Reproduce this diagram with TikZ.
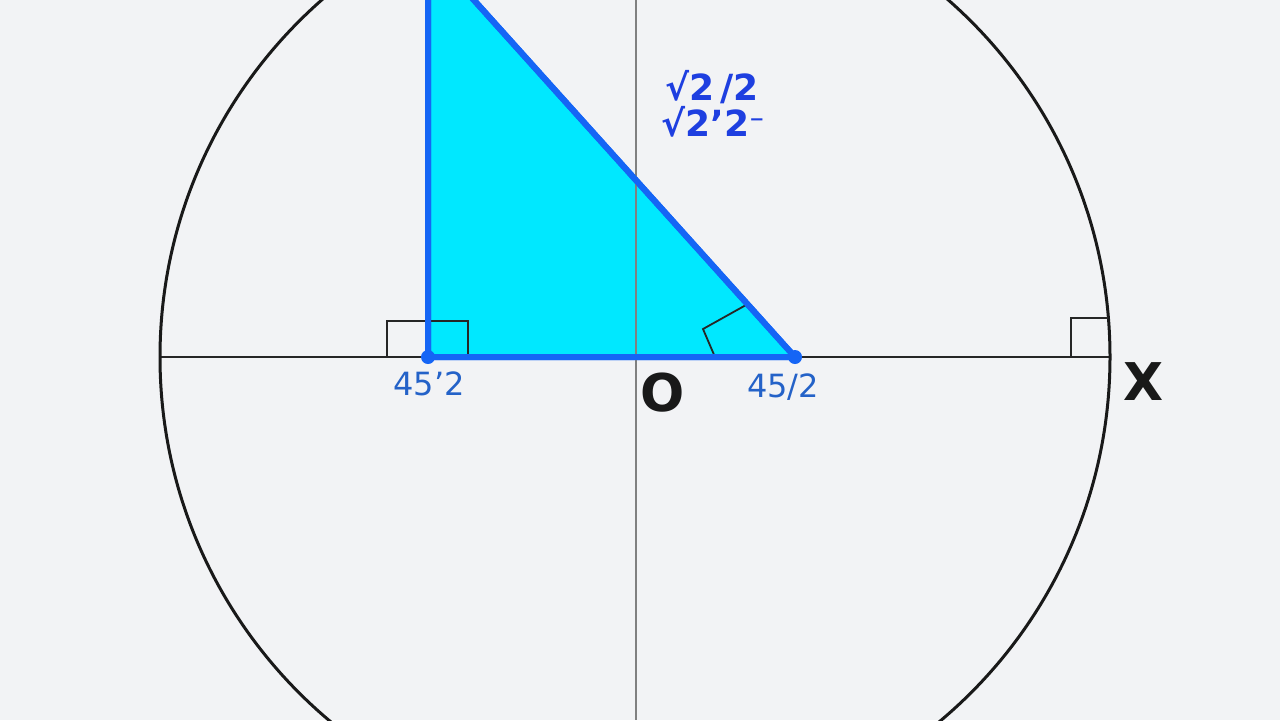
\documentclass[tikz,border=0pt]{standalone}
\usepackage{fontspec}
\setmainfont{DejaVu Sans}
\definecolor{bgc}{HTML}{F2F3F5}
\definecolor{fillc}{HTML}{00E8FF}
\definecolor{edgec}{HTML}{1565F5}
\definecolor{lblue}{HTML}{2462C8}
\definecolor{sblue}{HTML}{1E3FE0}
\definecolor{axisg}{HTML}{808080}
\tikzset{
  lbl/.style={text=lblue, font=\fontsize{16}{18}\selectfont, inner sep=0pt},
  slbl/.style={text=sblue, font=\fontsize{18}{19}\selectfont\bfseries, inner sep=0pt},
  big/.style={text=black!90, font=\fontsize{26}{28}\selectfont\bfseries, inner sep=0pt},
  tri/.style={draw=edgec, line width=3pt, fill=fillc, line join=round},
  ramark/.style={draw=black!85, line width=0.9pt},
  vdot/.style={circle, fill=edgec, inner sep=0pt, minimum size=7pt}
}
\begin{document}
\begin{tikzpicture}[x=0.5pt,y=-0.5pt]
\fill[bgc] (0,0) rectangle (1280,720);
\useasboundingbox (0,0) rectangle (1280,720);
\clip (0,0) rectangle (1280,720);
\coordinate (A) at (428,357);
\coordinate (B) at (795,357);
\coordinate (T) at (428,-51);
\coordinate (O) at (635,357);
% triangle
\draw[tri] (A) -- (B) -- (T) -- cycle;
% axes
\draw[axisg, line width=0.8pt] (636,0) -- (636,720);
\draw[black!85, line width=0.8pt] (160,357) -- (A);
\draw[black!85, line width=0.8pt] (B) -- (1110,357);
% circle
\draw[black!90, line width=1.5pt] (O) circle[radius=475];
% right-angle marks
\draw[ramark] (387,357) -- (387,321) -- (468,321) -- (468,357);
\draw[ramark] (1071,357) -- (1071,318) -- (1108,318);
\draw[ramark] (715,357) -- (703,329) -- (746,305);
% redraw triangle edges over marks
\draw[edgec, line width=3pt, line join=round] (A) -- (B) -- (T) -- cycle;
% dots
\node[vdot] (dA) at (A) {};
\node[vdot] (dB) at (B) {};
% labels
\node[lbl] (la) at (429,384) {45'2};
\node[lbl] (lb) at (783,387) {45/2};
\node[big] (lo) at (663,393) {O};
\node[big] (lx) at (1144,382) {X};
\node[slbl] (s1) at (712,87) {√2\,/2};
\node[slbl] (s2) at (713,122) {√2'2\raisebox{0.55ex}{\fontsize{9}{9}\selectfont −}};
\end{tikzpicture}
\end{document}
